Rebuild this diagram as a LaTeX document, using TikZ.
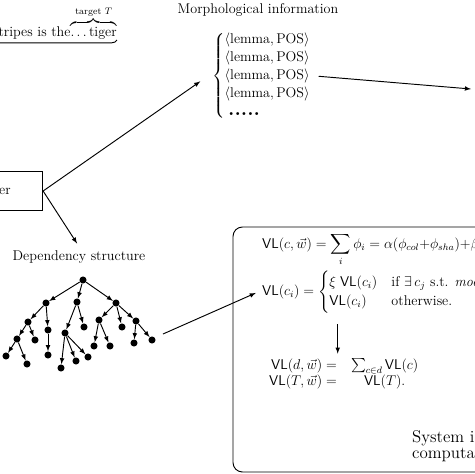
\documentclass[tikz,border=0pt]{standalone}
\usepackage{amsmath}
\usepackage{amssymb}
\usepackage{tikz}
\usetikzlibrary{decorations.pathreplacing,calc}

\begin{document}
\begin{tikzpicture}[x=0.85pt,y=0.85pt,yscale=-1,xscale=1,
    dot/.style={circle,fill=black,inner sep=0pt,minimum size=6pt},
    arr/.style={->,>=latex,thick},
    lbl/.style={font=\large}]
\useasboundingbox (0,0) rectangle (474,474);

% sentence with target
\node [lbl, anchor=base east, inner sep=0pt] (sent) at (117,36) {tripes is the$\overbrace{\ldots\text{tiger}}^{\text{target }T}$};
\draw [thick, decorate, decoration={brace,amplitude=5pt}] (117,40) -- (-260,40);

% morphology
\node [lbl] (morphlbl) at (258,10) {Morphological information};
\node [lbl, anchor=west] (morph) at (208,76) {$\left\{\begin{array}{@{}l@{}}
  \langle\text{lemma},\text{POS}\rangle\\[1.2pt]
  \langle\text{lemma},\text{POS}\rangle\\[1.2pt]
  \langle\text{lemma},\text{POS}\rangle\\[1.2pt]
  \langle\text{lemma},\text{POS}\rangle\\[1.2pt]
  \hspace{3pt}\text{\LARGE\bfseries .....}
  \end{array}\right.$};
\coordinate (vlin) at (471,89);
\draw [arr, shorten <=3pt] (morph.east) -- (vlin);

% parser
\node [lbl, draw, thick, minimum width=64pt, minimum height=33pt] (parser) at (5,191) {er};
\draw [arr, shorten >=8pt] (parser.east) -- (morph.west);
\node [lbl] (deplbl) at (79,257) {Dependency structure};
\draw [arr, shorten >=3pt] (parser.east) -- (deplbl.north);

% dependency tree
\node [dot] (r) at (83,280) {};
\node [dot] (a) at (46,303) {};
\node [dot] (b) at (77,302) {};
\node [dot] (c) at (116,303) {};
\node [dot] (a1) at (28,322) {};
\node [dot] (a2) at (48,330) {};
\node [dot] (a11) at (17,339) {};
\node [dot] (a12) at (35,340) {};
\node [dot] (a111) at (6,356) {};
\node [dot] (a112) at (27,364) {};
\node [dot] (a21) at (48,355) {};
\node [dot] (b1) at (65,333) {};
\node [dot] (b2) at (84,327) {};
\node [dot] (b11) at (61,368) {};
\node [dot] (b12) at (76,361) {};
\node [dot] (b13) at (88,357) {};
\node [dot] (c1) at (99,320) {};
\node [dot] (c2) at (122,327) {};
\node [dot] (c3) at (136,321) {};
\node [dot] (c11) at (94,346) {};
\node [dot] (c12) at (110,346) {};
\node [dot] (c31) at (134,343) {};
\node [dot] (c32) at (152,340) {};
\foreach \p/\q in {r/a,r/b,r/c,a/a1,a/a2,a1/a11,a1/a12,a11/a111,a11/a112,a2/a21,
    b/b1,b/b2,b1/b11,b1/b12,b1/b13,c/c1,c/c2,c/c3,c1/c11,c1/c12,c3/c31,c3/c32}
  \draw [arr] (\p) -- (\q);
\coordinate (treeout) at (163,334);

% value computation
\draw [thick, rounded corners=8pt] (233,227) rectangle (560,472);
\node [lbl, anchor=base west] (eqone) at (258,248) {$\displaystyle\mathsf{VL}(c,\vec{w}) = \sum_i \phi_i = \alpha(\phi_{col}{+}\phi_{sha}){+}\beta$};
\node [lbl, anchor=west] (eqtwo) at (258,292) {$\mathsf{VL}(c_i) = \begin{cases}\xi\;\mathsf{VL}(c_i) & \text{if } \exists\, c_j \text{ s.t. } \mathit{mod}\\ \mathsf{VL}(c_i) & \text{otherwise.}\end{cases}$};
\draw [arr, shorten >=2pt] (treeout) -- (eqtwo.west);
\node [lbl, anchor=west] (eqthree) at (265,374) {$\begin{array}{@{}r@{\quad}c@{}}
  \mathsf{VL}(d,\vec{w}) = & \sum_{c\in d}\mathsf{VL}(c)\\[-0.5pt]
  \mathsf{VL}(T,\vec{w}) = & \mathsf{VL}(T).
  \end{array}$};
\draw [arr] ($(eqtwo.south -| eqthree.north)+(-6,7)$) -- ($(eqthree.north)+(-6,0)$);
\node [font=\Large, align=left, anchor=north west] (sys) at (408,426) {System i\\[-4pt]computa};
\end{tikzpicture}
\end{document}
